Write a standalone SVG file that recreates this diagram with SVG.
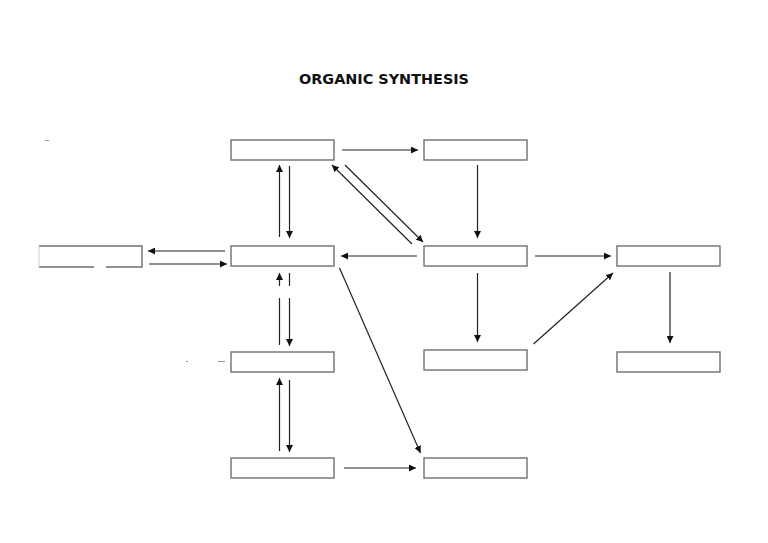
<svg xmlns="http://www.w3.org/2000/svg" width="768" height="543" viewBox="0 0 768 543">
<defs>
<marker id="ah" viewBox="0 0 10 10" refX="10" refY="5" markerWidth="7" markerHeight="7" markerUnits="userSpaceOnUse" orient="auto">
<path d="M0,0 L10,5 L0,10 z" fill="#111"/>
</marker>
</defs>
<style>
.box{fill:#fff;stroke:#707070;stroke-width:1.4}
.edge{fill:none;stroke:#707070;stroke-width:1.4}
.ln{fill:none;stroke:#222;stroke-width:1.2}
.ar{fill:none;stroke:#222;stroke-width:1.2;marker-end:url(#ah)}
.title{font-family:"DejaVu Sans",Verdana,sans-serif;font-weight:bold;font-size:14px;fill:#111}
.mark{stroke:#999;stroke-width:1}
</style>
<rect width="768" height="543" fill="#fff"/>
<text class="title" x="299" y="84" textLength="170" lengthAdjust="spacingAndGlyphs">ORGANIC SYNTHESIS</text>
<line class="mark" x1="45" y1="140.5" x2="49" y2="140.5"/>
<line class="mark" x1="186" y1="361.5" x2="188" y2="361.5"/>
<line class="mark" x1="218" y1="361.5" x2="225" y2="361.5"/>
<g id="nodes">
<g id="n-a"><rect class="box" x="231" y="140" width="103" height="20"/></g>
<g id="n-b"><rect class="box" x="424" y="140" width="103" height="20"/></g>
<g id="n-c"><rect class="box" x="231" y="246" width="103" height="20"/></g>
<g id="n-d"><path class="edge" d="M39,246 H142 V267 H106 M94,267 H39"/><line x1="39" y1="246" x2="39" y2="267" stroke="#ccc" stroke-width="1"/></g>
<g id="n-e"><rect class="box" x="424" y="246" width="103" height="20"/></g>
<g id="n-f"><rect class="box" x="617" y="246" width="103" height="20"/></g>
<g id="n-g"><rect class="box" x="231" y="352" width="103" height="20"/></g>
<g id="n-h"><rect class="box" x="424" y="350" width="103" height="20"/></g>
<g id="n-i"><rect class="box" x="617" y="352" width="103" height="20"/></g>
<g id="n-j"><rect class="box" x="231" y="458" width="103" height="20"/></g>
<g id="n-k"><rect class="box" x="424" y="458" width="103" height="20"/></g>
</g>
<g id="connectors">
<line class="ar" x1="342" y1="150" x2="418" y2="150"/>
<line class="ar" x1="279.5" y1="237" x2="279.5" y2="165"/>
<line class="ar" x1="289.5" y1="166" x2="289.5" y2="238"/>
<line class="ar" x1="345" y1="165" x2="423" y2="242"/>
<line class="ar" x1="412" y1="244" x2="332" y2="165"/>
<line class="ar" x1="477.5" y1="165" x2="477.5" y2="238"/>
<line class="ar" x1="417" y1="256" x2="341" y2="256"/>
<line class="ar" x1="535" y1="256" x2="611" y2="256"/>
<line class="ar" x1="225" y1="251" x2="148" y2="251"/>
<line class="ar" x1="149" y1="264" x2="227" y2="264"/>
<line class="ar" x1="279.5" y1="286" x2="279.5" y2="273"/>
<line class="ln" x1="279.5" y1="298" x2="279.5" y2="345"/>
<line class="ln" x1="289.5" y1="273" x2="289.5" y2="286"/>
<line class="ar" x1="289.5" y1="298" x2="289.5" y2="346"/>
<line class="ar" x1="279.5" y1="451" x2="279.5" y2="378"/>
<line class="ar" x1="289.5" y1="380" x2="289.5" y2="452"/>
<line class="ar" x1="339.5" y1="268" x2="420.5" y2="453"/>
<line class="ar" x1="477.5" y1="273" x2="477.5" y2="342"/>
<line class="ar" x1="533.5" y1="344" x2="613" y2="273"/>
<line class="ar" x1="670" y1="272" x2="670" y2="343"/>
<line class="ar" x1="344" y1="468" x2="416" y2="468"/>
</g>
</svg>
